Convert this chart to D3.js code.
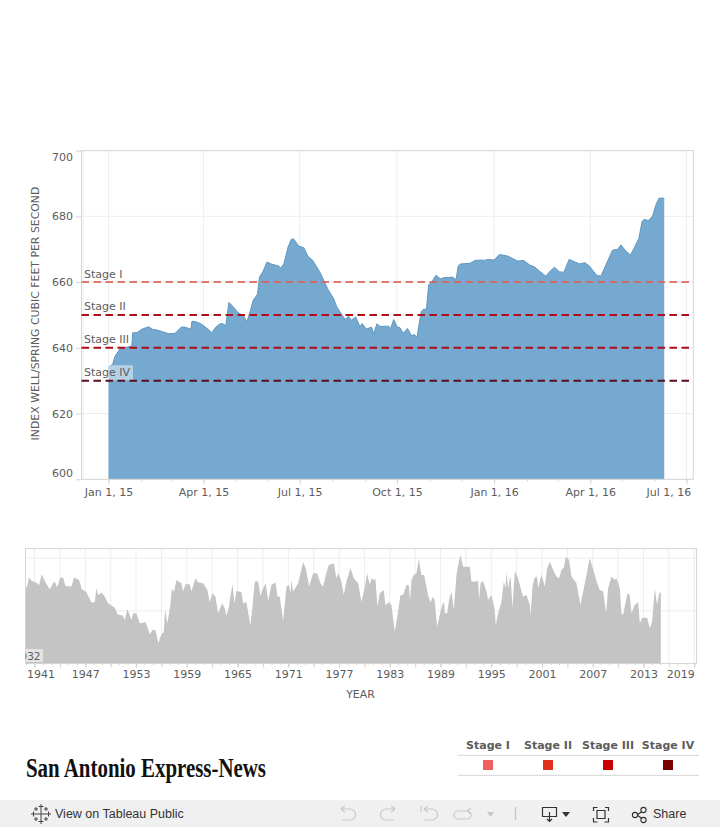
<!DOCTYPE html>
<html><head><meta charset="utf-8">
<script src="https://cdn.jsdelivr.net/npm/d3@7"></script>
<style>
html,body{margin:0;padding:0;background:#fff;overflow:hidden}
svg{display:block}
text{font-family:"DejaVu Sans",sans-serif;fill:#5c5c5c}
.tick line{stroke:#d4d4d4}
.domain{display:none}
</style></head><body>
<svg id="c" width="720" height="827"></svg>
<script>
// ---- data ----
const stageNames = ["Stage I","Stage II","Stage III","Stage IV"];
const stageLevels = [660,650,640,630];
const mainStart = Date.UTC(2015,0,1);
const mainDays = [0,4,6,11,22,23,27,31,38,42,46,57,63,69,72,78,79,83,88,94,98,101,105,108,111,114,118,122,128,131,134,137,141,143,146,150,154,161,163,166,170,173,175,180,185,189,193,200,208,213,216,219,224,227,230,234,238,240,244,249,251,254,257,265,267,270,273,276,279,283,287,289,292,296,298,301,303,306,310,314,318,323,325,329,331,333,342,347,353,356,359,365,370,378,386,388,393,399,403,408,414,417,422,427,431,436,441,446,451,455,462,466,469,477,482,485,489,494,498,502,505,507,511,515,518,521,525,526];
const mainFlow = [634.2,635,637.3,639.8,640.5,644.6,644.6,645.6,646.4,645.6,645.4,644.3,644.4,646.3,646.3,645.7,648.1,647.9,647.2,645.7,644.6,646.1,647.2,647.4,646.7,653.8,652.5,650.9,649.6,647.9,651,654.5,656.3,661.6,663.1,666.1,665.5,664.9,664.3,665.5,670.7,673,673.2,671,670.4,667.7,666.7,663.1,657.6,655,652.5,651,648.6,649.6,648.4,649.4,646.4,647.4,645.7,646.3,644.2,647.3,646.5,646.6,645.9,648.6,646.4,646.1,644.4,645.9,643.6,644.1,643.3,651,651.7,651.8,659.1,660.1,662.1,661,661.4,661.4,661.6,660.8,664.9,665.5,665.7,666.6,666.7,666.6,666.9,666.7,668.4,667.9,666.6,666.4,666.6,665.1,664.7,663.3,661.8,663,664.5,663.1,663,666.9,666.2,665.5,665.9,664.9,662.1,661.8,663.9,669.7,670,671.3,669.7,668.2,670.7,673.3,678.4,679.1,678.7,680.1,683.4,685.5,685.6,685.2];
const historyYears = [1939.92,1940.12,1940.35,1940.67,1941.14,1941.54,1941.85,1942.21,1942.8,1943.19,1943.39,1943.66,1944.06,1944.37,1944.65,1945.36,1945.67,1946.27,1946.58,1947.13,1947.72,1948.12,1948.31,1948.51,1948.91,1949.3,1949.69,1950.48,1950.8,1951.47,1951.66,1951.98,1952.45,1952.65,1953.04,1953.44,1954.15,1954.62,1954.93,1955.29,1955.64,1956,1956.27,1956.43,1956.71,1957.06,1957.22,1957.5,1957.77,1958.36,1958.56,1958.84,1959.35,1959.55,1960.02,1960.33,1960.93,1961.44,1961.71,1962.03,1962.38,1962.7,1963.17,1963.49,1963.68,1964,1964.08,1964.4,1964.63,1964.87,1965.46,1965.66,1966.05,1966.52,1966.76,1967.04,1967.43,1967.71,1968.02,1968.34,1968.61,1969.01,1969.48,1969.72,1969.99,1970.39,1970.78,1971.09,1971.25,1971.37,1971.57,1972.16,1972.36,1972.75,1973.07,1973.46,1973.93,1974.41,1974.8,1975.11,1975.43,1975.78,1976.38,1976.69,1976.93,1977.28,1977.56,1977.87,1978.35,1978.74,1979.25,1979.65,1980.04,1980.32,1980.63,1980.83,1981.1,1981.3,1981.54,1981.81,1982.29,1982.48,1982.92,1983.19,1983.59,1983.98,1984.26,1984.57,1984.97,1985.24,1985.4,1985.56,1985.83,1986.15,1986.43,1986.74,1987.06,1987.53,1987.8,1988.12,1988.32,1988.59,1988.91,1989.23,1989.42,1989.5,1989.78,1990.01,1990.29,1990.57,1990.88,1991.16,1991.35,1991.67,1992.46,1992.65,1993.32,1993.44,1993.56,1993.72,1994.03,1994.43,1994.62,1995.02,1995.41,1995.53,1995.81,1996.2,1996.48,1996.67,1996.79,1996.99,1997.19,1997.3,1997.5,1997.78,1998.17,1998.57,1998.76,1999.16,1999.55,1999.63,1999.87,2000.14,2000.42,2000.54,2000.93,2001.32,2001.6,2001.92,2002.31,2002.7,2003.02,2003.29,2003.57,2003.81,2004.2,2004.48,2005.07,2005.54,2005.86,2006.25,2006.64,2007.24,2007.51,2007.83,2008.22,2008.58,2008.81,2009.21,2009.6,2009.8,2010.19,2010.39,2010.59,2010.78,2011.1,2011.37,2011.57,2011.96,2012.36,2012.56,2012.83,2013.42,2013.74,2014.01,2014.33,2014.6,2014.84,2015.04];
const historyFlow = [671.4,673,681.8,678.3,677.1,674.5,684.7,678.3,670.4,676.1,677.7,672,681.5,681.5,673.6,673,681.5,679.3,670.7,667.6,657.8,658.1,671.4,665.1,667.3,663.5,657.1,653,646.7,645.4,641.3,651.8,641.3,647.7,647.7,638.2,639.1,627.7,631.8,631.8,619.2,627.7,629.6,650.8,638.2,655.6,670.7,668.2,679.3,676.1,668.2,675.2,675.2,668.2,680.9,677.1,676.1,669.8,658.1,666.6,663.5,647.7,657.1,652.4,645.4,654,660.3,675.2,657.1,668.8,667.6,657.1,658.1,636,654,677.7,677.7,664.4,671.4,676.1,659.4,674.5,677.1,663.5,663.5,640.4,673,674.5,666.6,679.3,668.2,676.1,682.5,696,690.4,673,685.6,685.6,676.1,673,683.4,693.5,695.1,680.9,685.6,677.7,665.1,677.7,690.4,680.9,676.1,658.7,672,685.6,674.5,680.9,679.3,680.2,654,666.6,669.8,655.6,658.1,655.6,630.3,649.2,665.1,665.1,674.5,674.5,660.3,679.3,684,685.6,699.2,684,684,665.1,658.1,663.5,658.7,635,646.1,656.2,658.1,647.7,647.7,660.3,668.2,650.8,684,696.7,703,691.9,691.9,677.7,677.7,679.3,660.3,676.1,678.3,668.2,660.3,665.1,650.8,636.6,647.7,658.7,677.7,671.4,686.6,671.4,680.9,680.9,652.4,687.8,680.9,668.2,663.5,665.1,655.6,645.4,673,681.5,682.5,671.4,684.7,673,690.4,696.7,688.8,682.5,680.9,688.8,691,701.4,698.3,682.5,676.1,655.6,668.2,684,699.8,684,676.1,669.8,668.2,647.7,671.4,682.5,679.3,680.9,671.4,647.7,646.1,654,666.6,665.1,647.7,655.6,658.1,638.2,643.5,643.5,633.4,639.8,671.4,655.6,666.6,667.6];
const yTicks = [600,620,640,660,680,700];
const historyGrid = [600,650,700];
const hiddenYearLabel = "1932";
const titleY = "INDEX WELL/SPRING CUBIC FEET PER SECOND";
const titleX = "YEAR";

// ---- styles ----
const gridC="#eeeeee", frameC="#d6d6d6";
const lineColors=["#dd6258","#b00d1a","#ad0c18","#5a0c20"];
const lineOpacity=[0.85,1,1,1];
const swatchColors=["#f25f5f","#e0301e","#cc0000","#7a0000"];
const svg=d3.select("#c");

// ---- main chart ----
const x=d3.scaleUtc().domain([d3.utcHour.offset(mainStart,-613),d3.utcHour.offset(mainStart,13284)]).range([81.5,693.3]);
const y=d3.scaleLinear().domain([600,700]).range([479.3,150.6]);
const main=mainDays.map((d,i)=>({date:d3.utcDay.offset(mainStart,d),v:mainFlow[i]}));
const quarters=d3.utcMonth.range(new Date(Date.UTC(2015,0,1)),new Date(Date.UTC(2016,6,2)),3);
const months=d3.utcMonth.range(new Date(Date.UTC(2015,0,1)),new Date(Date.UTC(2016,6,2)));

const gm=svg.append("g");
gm.append("g").selectAll("line").data(quarters.concat([new Date(Date.UTC(2014,11,8))])).join("line")
  .attr("x1",d=>x(d)).attr("x2",d=>x(d)).attr("y1",150.6).attr("y2",479.3).attr("stroke",gridC);
gm.append("g").selectAll("line").data(yTicks).join("line")
  .attr("x1",81.5).attr("x2",693.3).attr("y1",d=>y(d)).attr("y2",d=>y(d)).attr("stroke",gridC);
gm.append("path").datum(main)
  .attr("d",d3.area().x(d=>x(d.date)).y0(y(600)).y1(d=>y(d.v)))
  .attr("fill","#75a9cf");
gm.append("path").datum(main)
  .attr("d",d3.line().x(d=>x(d.date)).y(d=>y(d.v)))
  .attr("fill","none").attr("stroke","#5f97c1").attr("stroke-width",1);
gm.append("rect").attr("x",81.5).attr("y",150.6).attr("width",611.8).attr("height",328.7)
  .attr("fill","none").attr("stroke",frameC);

// minor month ticks
gm.append("g").attr("transform","translate(0,479.3)")
  .call(d3.axisBottom(x).tickValues(months).tickSize(2).tickFormat(""));
const ax=gm.append("g").attr("transform","translate(0,479.3)")
  .call(d3.axisBottom(x).tickValues(quarters).tickSize(5).tickPadding(4).tickFormat(d3.utcFormat("%b %-d, %y")));
ax.selectAll("text").attr("font-size",11).attr("dx",(d,i,n)=>i===n.length-1?-18:0);
const ay=gm.append("g").attr("transform","translate(81.5,0)")
  .call(d3.axisLeft(y).tickValues(yTicks).tickSize(5.5).tickPadding(3));
ay.selectAll("text").attr("font-size",11).attr("dy",d=>d===700?"0.86em":d===600?"-0.3em":"0.32em");
gm.append("text").attr("transform","translate(39,313.5) rotate(-90)").attr("text-anchor","middle")
  .attr("font-size",10.9).text(titleY);

// stage reference lines + labels
const stages=stageLevels.map((v,i)=>({v,name:stageNames[i],i}));
gm.append("rect").attr("x",84).attr("y",y(630)-15.5).attr("width",49).attr("height",15)
  .attr("fill","#fff").attr("opacity",0.45);
gm.append("g").selectAll("line").data(stages).join("line")
  .attr("x1",81.5).attr("x2",689.5).attr("y1",d=>y(d.v)).attr("y2",d=>y(d.v))
  .attr("stroke",d=>lineColors[d.i]).attr("stroke-opacity",d=>lineOpacity[d.i])
  .attr("stroke-width",2).attr("stroke-dasharray","7.5 4.5");
gm.append("g").selectAll("text").data(stages).join("text")
  .attr("x",84).attr("y",d=>y(d.v)-4.5).attr("font-size",11).text(d=>d.name);

// ---- history strip ----
const hx=d3.scaleLinear().domain([1939.93,2019.26]).range([25.5,696.5]);
const hy=d3.scaleLinear().domain([600,700]).range([663.5,558.1]);
const hist=historyYears.map((t,i)=>({t,v:historyFlow[i]}));
const years3=d3.range(1941,2020,3), labelled=d3.range(1941,2020,6), years1=d3.range(1940,2020);
const gh=svg.append("g");
gh.append("g").selectAll("line").data(years3).join("line")
  .attr("x1",d=>hx(d)).attr("x2",d=>hx(d)).attr("y1",548.5).attr("y2",663.5).attr("stroke",gridC);
gh.append("g").selectAll("line").data(historyGrid).join("line")
  .attr("x1",25.5).attr("x2",696.5).attr("y1",d=>hy(d)).attr("y2",d=>hy(d)).attr("stroke",gridC);
gh.append("path").datum(hist)
  .attr("d",d3.area().x(d=>hx(d.t)).y0(hy(600)).y1(d=>hy(d.v)))
  .attr("fill","#c4c4c4");
gh.append("rect").attr("x",25.5).attr("y",548.5).attr("width",671).attr("height",115)
  .attr("fill","none").attr("stroke",frameC);
gh.append("g").attr("transform","translate(0,663.5)")
  .call(d3.axisBottom(hx).tickValues(years1).tickSize(1.5).tickFormat(""));
gh.append("g").attr("transform","translate(0,663.5)")
  .call(d3.axisBottom(hx).tickValues(years3).tickSize(4).tickFormat(""));
const hax=gh.append("g").attr("transform","translate(0,663.5)")
  .call(d3.axisBottom(hx).tickValues(labelled).tickSize(4).tickPadding(3).tickFormat(d3.format("d")));
hax.selectAll("text").attr("font-size",11)
  .attr("dx",d=>d===1941?6:d===2019?-14:0);
gh.append("text").attr("x",360.5).attr("y",698).attr("text-anchor","middle").attr("font-size",10.9).text(titleX);
svg.append("clipPath").attr("id","hc").append("rect").attr("x",25.5).attr("y",640).attr("width",30).attr("height",30);
const hl=gh.append("g").attr("clip-path","url(#hc)");
hl.append("rect").attr("x",25.5).attr("y",649).attr("width",17.5).attr("height",13).attr("fill","#e4e4e4");
hl.append("text").attr("x",40.5).attr("y",659.5).attr("text-anchor","end").attr("font-size",10.5).text(hiddenYearLabel);

// ---- legend ----
const lg=d3.scaleBand().domain(stageNames).range([458,698]);
const gl=svg.append("g");
[755.3,775.3].forEach(yy=>gl.append("line").attr("x1",458).attr("x2",699).attr("y1",yy).attr("y2",yy).attr("stroke","#d4d4d4"));
gl.selectAll("text").data(stageNames).join("text")
  .attr("x",d=>lg(d)+lg.bandwidth()/2).attr("y",749).attr("text-anchor","middle")
  .attr("font-size",11).attr("font-weight",700).text(d=>d);
gl.selectAll("rect").data(stageNames).join("rect")
  .attr("x",d=>lg(d)+lg.bandwidth()/2-5).attr("y",760).attr("width",10).attr("height",10)
  .attr("fill",(d,i)=>swatchColors[i]);

// ---- masthead ----
svg.append("text").attr("x",26).attr("y",777).attr("textLength",240).attr("lengthAdjust","spacingAndGlyphs")
  .attr("font-size",27).attr("font-weight",700).style("font-family","'Liberation Serif',serif").style("fill","#111")
  .text("San Antonio Express-News");

// ---- toolbar ----
const tb=svg.append("g");
tb.append("rect").attr("x",0).attr("y",800).attr("width",720).attr("height",27).attr("fill","#f0f0f0");
const txt=(s,xx)=>tb.append("text").attr("x",xx).attr("y",818).attr("font-size",12.5).style("font-family","'Liberation Sans',sans-serif").style("fill","#333").text(s);
txt("View on Tableau Public",55);
txt("Share",653);
const ic=(d,c,w=1.2)=>tb.append("path").attr("d",d).attr("fill","none").attr("stroke",c).attr("stroke-width",w);
// tableau mark
[[41,814,5],[41,806.5,2.5],[41,821.5,2.5],[33.5,814,2.5],[48.5,814,2.5],[36,809,2],[46,809,2],[36,819,2],[46,819,2]].forEach(([a,b,r])=>
  ic(`M${a-r} ${b}H${a+r}M${a} ${b-r}V${b+r}`,"#444",1));
const off="#c9c9c9";
ic("M341 809h9a5.5 5.5 0 0 1 0 11h-8M341 809l4-3M341 809l4 3",off);
ic("M395 809h-9a5.5 5.5 0 0 0 0 11h8M395 809l-4-3M395 809l-4 3",off);
ic("M421 806v6M424 809h8a5 5 0 0 1 0 11h-8M424 809l4-3M424 809l4 3",off);
ic("M458 811a4 4 0 0 0 0 8h9a4 4 0 0 0 0-8h-9M467 811l4-3M467 811l4 3",off);
tb.append("path").attr("d","M487 812h7l-3.5 5z").attr("fill",off);
ic("M515.5 807v13","#c4c4c4");
ic("M542.5 807.5h14v9h-14zM549.5 812v9M547 819l2.5 2.5 2.5-2.5","#333");
tb.append("path").attr("d","M562 812h8l-4 5z").attr("fill","#333");
ic("M593.5 811v-3.5h4M605 807.5h3.5v3.5M608.5 818v4h-4M597.5 822h-4v-4","#333");
ic("M597 810.5h8v8h-8z","#333");
ic("M637 815l5-3.5M637 815l5 3.5","#333");
tb.append("g").selectAll("circle").data([[635,815],[643.5,810],[643.5,820]]).join("circle")
  .attr("cx",d=>d[0]).attr("cy",d=>d[1]).attr("r",2.6).attr("fill","#f0f0f0").attr("stroke","#333").attr("stroke-width",1.1);
</script></body></html>
